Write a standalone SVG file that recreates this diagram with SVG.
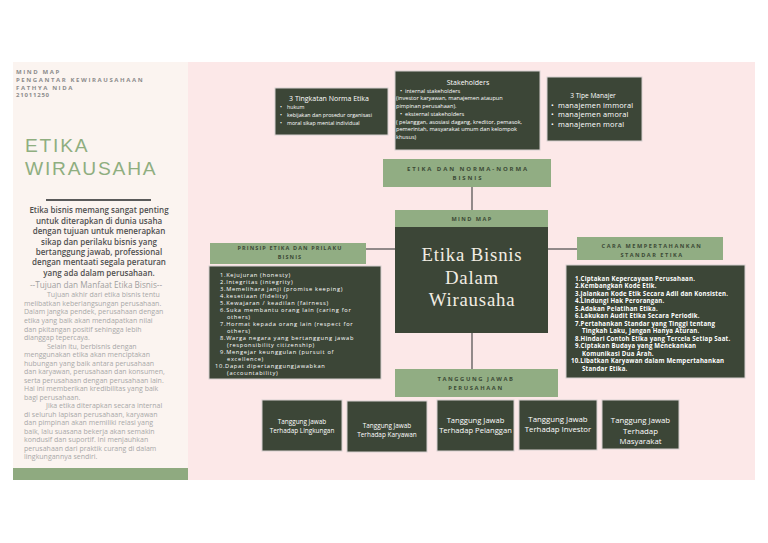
<svg xmlns="http://www.w3.org/2000/svg" width="768" height="543" viewBox="0 0 768 543">
<style>
.dk{fill:#3c4637;stroke:#d6cfcf;stroke-width:1}
.gr{fill:#91ad83}
.ln{stroke:#4a4a4a;stroke-width:1.2;fill:none}
.w{fill:#ffffff;font-family:"Open Sans","Liberation Sans",sans-serif}
.hd{fill:#3c4a36;font-family:"Open Sans","Liberation Sans",sans-serif;font-weight:700;text-anchor:middle}
.meta{fill:#8c8c8c;font-family:"Open Sans","Liberation Sans",sans-serif;font-weight:700;font-size:6px}
.para{fill:#a8a8a8;font-family:"Open Sans","Liberation Sans",sans-serif;font-size:7px}
</style>
<rect width="768" height="543" fill="#ffffff"/>
<rect x="13" y="62" width="175" height="418" fill="#fbf4f0"/>
<rect x="188" y="62" width="567" height="418" fill="#fce8e8"/>
<rect x="13" y="468" width="175" height="12" fill="#8faa80"/>

<g id="left-panel">
<text class="meta" x="16" y="74" letter-spacing="1.6">MIND MAP</text>
<text class="meta" x="16" y="82" letter-spacing="1.6">PENGANTAR KEWIRAUSAHAAN</text>
<text class="meta" x="16" y="90" letter-spacing="1.6">FATHYA NIDA</text>
<text class="meta" x="16" y="97" letter-spacing="0.8">21011250</text>
<text x="25" y="151.5" fill="#8fae80" font-family="Liberation Sans, Arial, sans-serif" font-size="19.2" letter-spacing="1.8">ETIKA</text>
<text x="25" y="174.5" fill="#8fae80" font-family="Liberation Sans, Arial, sans-serif" font-size="19.2" letter-spacing="1.8">WIRAUSAHA</text>
<line x1="46" y1="200" x2="151" y2="200" stroke="#5a5a5a" stroke-width="2"/>
<g fill="#4f4f4f" font-family="Open Sans, Liberation Sans, sans-serif" font-size="8" font-weight="600" text-anchor="middle">
<text x="99" y="213">Etika bisnis memang sangat penting</text>
<text x="99" y="223.5">untuk diterapkan di dunia usaha</text>
<text x="99" y="234">dengan tujuan untuk menerapkan</text>
<text x="99" y="244.5">sikap dan perilaku bisnis yang</text>
<text x="99" y="255">bertanggung jawab, professional</text>
<text x="99" y="265.3">dengan mentaati segala peraturan</text>
<text x="99" y="275.5">yang ada dalam perusahaan.</text>
</g>
<text x="96" y="288" fill="#9f9f9f" font-family="Open Sans, Liberation Sans, sans-serif" font-size="8.2" text-anchor="middle">--Tujuan dan Manfaat Etika Bisnis--</text>
<g class="para">
<text x="47" y="297.3">Tujuan akhir dari etika bisnis tentu</text>
<text x="24" y="305.8">melibatkan keberlangsungan perusahaan.</text>
<text x="24" y="314.3">Dalam jangka pendek, perusahaan dengan</text>
<text x="24" y="322.9">etika yang baik akan mendapatkan nilai</text>
<text x="24" y="331.5">dan pkitangan positif sehingga lebih</text>
<text x="24" y="340">dianggap tepercaya.</text>
<text x="47" y="348.5">Selain itu, berbisnis dengan</text>
<text x="24" y="357">menggunakan etika akan menciptakan</text>
<text x="24" y="365.5">hubungan yang baik antara perusahaan</text>
<text x="24" y="374">dan karyawan, perusahaan dan konsumen,</text>
<text x="24" y="382.5">serta perusahaan dengan perusahaan lain.</text>
<text x="24" y="391">Hal ini memberikan kredibilitas yang baik</text>
<text x="24" y="399.5">bagi perusahaan.</text>
<text x="46" y="408">Jika etika diterapkan secara internal</text>
<text x="24" y="416.5">di seluruh lapisan perusahaan, karyawan</text>
<text x="24" y="425">dan pimpinan akan memiliki relasi yang</text>
<text x="24" y="433.6">baik, lalu suasana bekerja akan semakin</text>
<text x="24" y="442.1">kondusif dan suportif. Ini menjauhkan</text>
<text x="24" y="450.7">perusahaan dari praktik curang di dalam</text>
<text x="24" y="459.3">lingkungannya sendiri.</text>
</g>
</g>

<g id="connectors">
<line class="ln" x1="472" y1="187" x2="472" y2="210"/>
<line class="ln" x1="366" y1="249" x2="395" y2="249"/>
<line class="ln" x1="548" y1="249" x2="577" y2="249"/>
<line class="ln" x1="472" y1="333" x2="472" y2="369"/>
</g>

<g id="norma-etika">
<rect class="dk" x="275" y="88" width="113" height="47"/>
<text class="w" x="329" y="101" font-size="7" text-anchor="middle">3 Tingkatan Norma Etika</text>
<g class="w" font-size="5.3">
<text x="280" y="109">•</text><text x="287" y="109">hukum</text>
<text x="280" y="117">•</text><text x="287" y="117">kebijakan dan prosedur organisasi</text>
<text x="280" y="125">•</text><text x="287" y="125">moral sikap mental individual</text>
</g>
</g>

<g id="stakeholders">
<rect class="dk" x="395" y="71" width="145" height="79"/>
<text class="w" x="468" y="85" font-size="7" text-anchor="middle">Stakeholders</text>
<g class="w" font-size="5.6">
<text x="400" y="92.7">•</text><text x="405" y="92.7">internal stakeholders</text>
<text x="396" y="100">(investor karyawan, manajemen ataupun</text>
<text x="396" y="108">pimpinan perusahaan).</text>
<text x="400" y="115.5">•</text><text x="405" y="115.5">eksternal stakeholders</text>
<text x="396" y="123.7">( pelanggan, asosiasi dagang, kreditor, pemasok,</text>
<text x="396" y="131.3">pemerintah, masyarakat umum dan kelompok</text>
<text x="396" y="138.8">khusus)</text>
</g>
</g>

<g id="tipe-manajer">
<rect class="dk" x="547" y="77" width="95" height="64"/>
<text class="w" x="593" y="98" font-size="6.6" text-anchor="middle">3 Tipe Manajer</text>
<g class="w" font-size="7.4" letter-spacing="0.2">
<text x="551" y="107.5">•</text><text x="558" y="107.5">manajemen immoral</text>
<text x="551" y="117">•</text><text x="558" y="117">manajemen amoral</text>
<text x="551" y="126.5">•</text><text x="558" y="126.5">manajemen moral</text>
</g>
</g>

<g id="etika-norma">
<rect class="gr" x="383" y="159" width="168" height="28"/>
<text class="hd" x="468" y="171" font-size="6" letter-spacing="1.9">ETIKA DAN NORMA-NORMA</text>
<text class="hd" x="468" y="180" font-size="6" letter-spacing="1.9">BISNIS</text>
</g>

<g id="center">
<rect class="gr" x="395" y="210" width="153" height="17"/>
<text class="hd" x="472" y="221" font-size="5.6" letter-spacing="1.4">MIND MAP</text>
<rect x="395" y="227" width="153" height="106" fill="#3c4637"/>
<g fill="#f2ede3" font-family="Liberation Serif, DejaVu Serif, serif" font-size="18.8" letter-spacing="0.8" text-anchor="middle">
<text x="472" y="261">Etika Bisnis</text>
<text x="472" y="283.6">Dalam</text>
<text x="472" y="306.2">Wirausaha</text>
</g>
</g>

<g id="prinsip">
<rect class="gr" x="210" y="243" width="156" height="21"/>
<text class="hd" x="290" y="250" font-size="5.5" letter-spacing="1.1">PRINSIP ETIKA DAN PRILAKU</text>
<text class="hd" x="290" y="258.5" font-size="5.5" letter-spacing="1.1">BISNIS</text>
</g>

<g id="prinsip-list">
<rect class="dk" x="209" y="266" width="172" height="113"/>
<g class="w" font-size="5.7" letter-spacing="0.7">
<text x="220" y="276.5">1.Kejujuran (honesty)</text>
<text x="220" y="283.5">2.Integritas (integrity)</text>
<text x="220" y="290.5">3.Memelihara janji (promise keeping)</text>
<text x="220" y="297.5">4.kesetiaan (fidelity)</text>
<text x="220" y="304.5">5.Kewajaran / keadilan (fairness)</text>
<text x="220" y="311.5">6.Suka membantu orang lain (caring for</text>
<text x="227" y="318.5">others)</text>
<text x="220" y="325.5">7.Hormat kepada orang lain (respect for</text>
<text x="227" y="332.5">others)</text>
<text x="220" y="339.5">8.Warga negara yang bertanggung jawab</text>
<text x="227" y="346.5">(responsibility citizenship)</text>
<text x="220" y="353.5">9.Mengejar keunggulan (pursuit of</text>
<text x="227" y="360.5">excellence)</text>
<text x="215" y="367.5">10.Dapat dipertanggungjawabkan</text>
<text x="227" y="374.5">(accountability)</text>
</g>
</g>

<g id="cara">
<rect class="gr" x="577" y="237" width="146" height="23"/>
<text class="hd" x="652" y="247.5" font-size="5.6" letter-spacing="1.5">CARA MEMPERTAHANKAN</text>
<text class="hd" x="652" y="256.5" font-size="5.6" letter-spacing="1.5">STANDAR ETIKA</text>
</g>

<g id="cara-list">
<rect class="dk" x="566" y="265" width="179" height="113"/>
<g class="w" font-size="6.1" font-weight="700" letter-spacing="0.2">
<text x="575" y="280.5">1.Ciptakan Kepercayaan Perusahaan.</text>
<text x="575" y="288">2.Kembangkan Kode Etik.</text>
<text x="575" y="295.5">3.Jalankan Kode Etik Secara Adil dan Konsisten.</text>
<text x="575" y="303">4.Lindungi Hak Perorangan.</text>
<text x="575" y="310.5">5.Adakan Pelatihan Etika.</text>
<text x="575" y="318">6.Lakukan Audit Etika Secara Periodik.</text>
<text x="575" y="325.5">7.Pertahankan Standar yang Tinggi tentang</text>
<text x="582" y="333">Tingkah Laku, Jangan Hanya Aturan.</text>
<text x="575" y="340.5">8.Hindari Contoh Etika yang Tercela Setiap Saat.</text>
<text x="575" y="348">9.Ciptakan Budaya yang Menekankan</text>
<text x="582" y="355.5">Komunikasi Dua Arah.</text>
<text x="571" y="363">10.Libatkan Karyawan dalam Mempertahankan</text>
<text x="582" y="370.5">Standar Etika.</text>
</g>
</g>

<g id="tanggung-jawab">
<rect class="gr" x="395" y="369" width="163" height="28"/>
<text class="hd" x="476" y="381" font-size="5.8" letter-spacing="1.6">TANGGUNG JAWAB</text>
<text class="hd" x="476" y="390" font-size="5.8" letter-spacing="1.6">PERUSAHAAN</text>
</g>

<g id="tj-lingkungan">
<rect class="dk" x="262" y="400" width="80" height="51"/>
<g class="w" font-size="6.4" text-anchor="middle"><text x="302" y="424">Tanggung Jawab</text><text x="302" y="432.5">Terhadap Lingkungan</text></g>
</g>
<g id="tj-karyawan">
<rect class="dk" x="347" y="401" width="80" height="51"/>
<g class="w" font-size="6.4" text-anchor="middle"><text x="387" y="428">Tanggung Jawab</text><text x="387" y="437">Terhadap Karyawan</text></g>
</g>
<g id="tj-pelanggan">
<rect class="dk" x="437" y="400" width="77" height="51"/>
<g class="w" font-size="7.6" text-anchor="middle"><text x="475.5" y="423">Tanggung Jawab</text><text x="475.5" y="433">Terhadap Pelanggan</text></g>
</g>
<g id="tj-investor">
<rect class="dk" x="519" y="400" width="78" height="50"/>
<g class="w" font-size="7.8" text-anchor="middle"><text x="558" y="422">Tanggung Jawab</text><text x="558" y="432">Terhadap Investor</text></g>
</g>
<g id="tj-masyarakat">
<rect class="dk" x="602" y="400" width="77" height="49"/>
<g class="w" font-size="7.8" text-anchor="middle"><text x="640.5" y="423">Tanggung Jawab</text><text x="640.5" y="433.5">Terhadap</text><text x="640.5" y="444">Masyarakat</text></g>
</g>
</svg>
